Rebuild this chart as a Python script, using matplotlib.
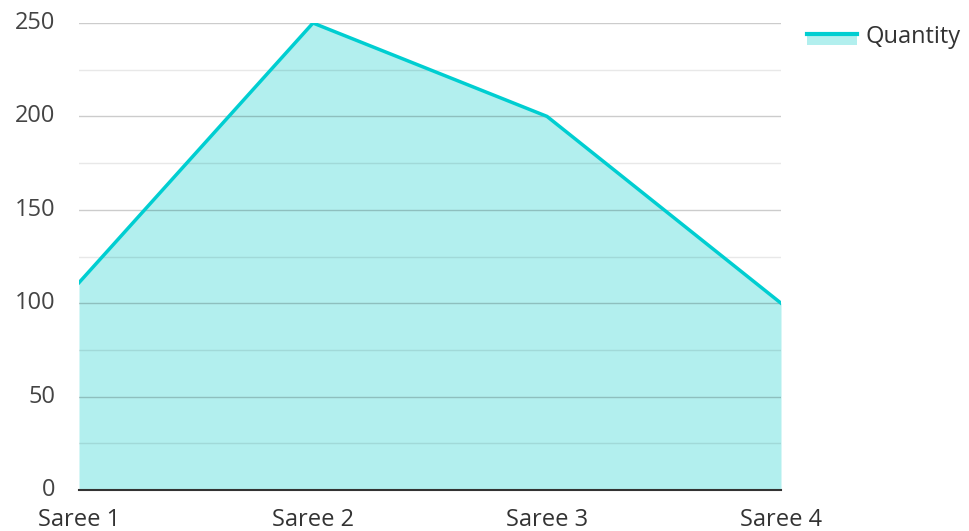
import matplotlib
matplotlib.use("Agg")
import matplotlib.pyplot as plt
from matplotlib.patches import Rectangle
from matplotlib.lines import Line2D
from matplotlib.ticker import MultipleLocator
from matplotlib.legend_handler import HandlerBase

categories = ["Saree 1", "Saree 2", "Saree 3", "Saree 4"]
quantity = [111, 250, 200, 100]
yticks = [0, 50, 100, 150, 200, 250]

plt.rcParams['font.family'] = ['Open Sans', 'DejaVu Sans']

fig = plt.figure(figsize=(9.7, 5.31), dpi=100)
ax = fig.add_axes([79/970, 41/531, (781-79)/970, (490-23)/531])

x = list(range(len(categories)))
line_color = "#00CED1"
fill_color = "#B2EFEE"
ax.fill_between(x, quantity, 0, color=fill_color, lw=0, zorder=1)
ax.plot(x, quantity, color=line_color, lw=2.5, zorder=3, solid_joinstyle='miter')

ax.set_xlim(0, len(categories) - 1)
ax.set_ylim(0, 250)
ax.set_yticks(yticks)
ax.yaxis.set_minor_locator(MultipleLocator(25))
ax.grid(axis='y', which='major', color='#000000', alpha=0.2, lw=1, zorder=2)
ax.grid(axis='y', which='minor', color='#000000', alpha=0.09, lw=1, zorder=2)
ax.set_axisbelow(False)
ax.set_xticks(x)
ax.set_xticklabels(categories)

for s in ['top', 'right', 'left']:
    ax.spines[s].set_visible(False)
ax.spines['bottom'].set_color('#333333')
ax.spines['bottom'].set_linewidth(1.5)
ax.spines['bottom'].set_zorder(4)

ax.tick_params(axis='y', which='both', length=0, pad=17, labelsize=17, labelcolor='#444444')
ax.tick_params(axis='x', length=0, pad=13, labelsize=17, labelcolor='#333333')
for lbl in ax.get_yticklabels():
    lbl.set_verticalalignment('center')


class AreaHandler(HandlerBase):
    def create_artists(self, legend, orig_handle, xdescent, ydescent, width, height, fontsize, trans):
        h = height * 0.75
        y0 = (height - h) / 2 - ydescent - 3.5
        rect = Rectangle((-xdescent, y0), width, h, facecolor=fill_color, edgecolor='none', transform=trans)
        ln = Line2D([-xdescent, -xdescent + width], [y0 + h, y0 + h], color=line_color, lw=3, transform=trans)
        return [rect, ln]


dummy = Rectangle((0, 0), 1, 1)
leg = fig.legend([dummy], ["Quantity"], loc='center left', bbox_to_anchor=(807/970, 1 - 37/531),
                 frameon=False, fontsize=17, handlelength=2.1, handleheight=0.6, handletextpad=0.38,
                 borderpad=0, borderaxespad=0,
                 handler_map={Rectangle: AreaHandler()})
for t in leg.get_texts():
    t.set_color('#333333')

fig.savefig("out.png", dpi=100)
